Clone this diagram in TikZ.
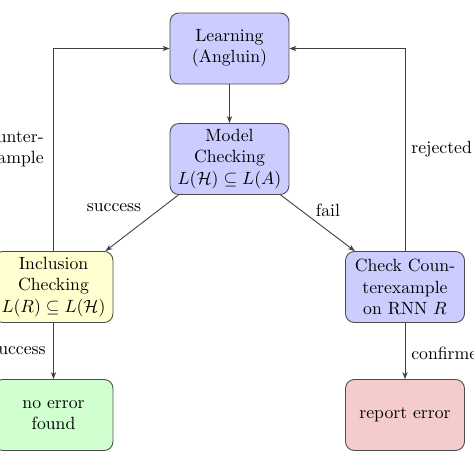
\documentclass[tikz,border=0pt]{standalone}
\usetikzlibrary{arrows.meta}
\definecolor{bluebox}{RGB}{204,204,255}
\definecolor{yellowbox}{RGB}{255,255,208}
\definecolor{greenbox}{RGB}{208,255,208}
\definecolor{redbox}{RGB}{245,204,204}
\begin{document}
\begin{tikzpicture}[x=0.565pt,y=-0.565pt,
  box/.style={draw=black!70, line width=0.5pt, rounded corners=5pt,
    minimum width=67.2pt, minimum height=40.1pt, align=center, inner sep=2pt},
  lbl/.style={inner sep=0pt},
  arr/.style={-{Stealth[length=4pt,width=3pt]}, draw=black!75, line width=0.5pt}]
\useasboundingbox (0,0) rectangle (474,474);
\fill[white] (0,0) rectangle (474,474);
\node[box, fill=bluebox] (learn) at (229.5,48.5) {Learning\\(Angluin)};
\node[box, fill=bluebox] (mc) at (229.5,159) {Model\\Checking\\$L(\mathcal{H})\subseteq L(A)$};
\node[box, fill=yellowbox] (inc) at (53.5,287) {Inclusion\\Checking\\$L(R)\subseteq L(\mathcal{H})$};
\node[box, fill=bluebox] (chk) at (405,287) {Check Coun-\\terexample\\on RNN $R$};
\node[box, fill=greenbox] (ok) at (53.5,415) {no error\\found};
\node[box, fill=redbox] (rep) at (405,415) {report error};
\draw[arr] (learn) -- (mc);
\draw[arr] ([xshift=5pt]mc.south west) -- ([xshift=-4.5pt]inc.north east);
\draw[arr] ([xshift=-5pt]mc.south east) -- ([xshift=5.5pt]chk.north west);
\draw[arr] (inc.north) |- (learn.west);
\draw[arr] (chk.north) |- (learn.east);
\draw[arr] (inc) -- (ok);
\draw[arr] (chk) -- (rep);
\node[lbl] (lsucc) at (114,208) {success};
\node[lbl] (lfail) at (328,210) {fail};
\node[lbl, anchor=east, align=right] (lcex) at (44,149.5) {counter-\\example};
\node[lbl, anchor=west] (lrej) at (411,149) {rejected};
\node[lbl, anchor=east] (lsucc2) at (46,351) {success};
\node[lbl, anchor=west] (lconf) at (411,353) {confirmed};
\end{tikzpicture}
\end{document}
